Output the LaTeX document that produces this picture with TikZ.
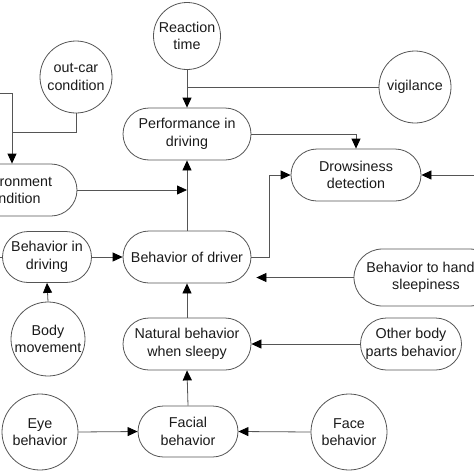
\documentclass[tikz,border=0pt]{standalone}
\usepackage{fontspec}
\setmainfont{Liberation Sans}
\usetikzlibrary{arrows.meta,shapes.misc}
\definecolor{edge}{HTML}{555555}
\definecolor{ink}{HTML}{1A1A1A}
\tikzset{
  base/.style={draw=edge,line width=0.8pt,text=ink,align=center,inner sep=0pt,
    font=\fontsize{14.3}{17.5}\selectfont},
  pill/.style={base,rounded rectangle,minimum height=52pt},
  ring/.style={base,circle},
  conn/.style={draw=edge,line width=0.8pt},
  arr/.style={conn,-{Triangle[length=10pt,width=9pt,color=black]}}
}
\begin{document}
\begin{tikzpicture}[x=1pt,y=-1pt]
\useasboundingbox (0,0) rectangle (474,474);
\fill[white] (0,0) rectangle (474,474);
\clip (0,0) rectangle (474,474);
% nodes
\node[ring,minimum size=67pt] (rt) at (187,36) {Reaction\\time};
\node[ring,minimum size=72pt] (vig) at (415,87) {vigilance};
\node[ring,minimum size=72pt] (oc) at (76,77) {out-car\\condition};
\node[pill,minimum width=128pt] (perf) at (187,134) {Performance in\\driving};
\node[pill,minimum width=130pt] (drow) at (356,175) {Drowsiness\\detection};
\node[pill,minimum width=130pt] (env) at (12,190) {Environment\\condition};
\node[pill,minimum width=128pt] (bod) at (187,257) {Behavior of driver};
\node[pill,minimum width=89pt,minimum height=51pt] (bid) at (47,257) {Behavior in\\driving};
\node[pill,minimum width=144pt,minimum height=57pt] (bh) at (426,277.5) {Behavior to handle\\sleepiness};
\node[ring,minimum size=74pt] (bm) at (48,339) {Body\\movement};
\node[pill,minimum width=128pt] (nat) at (187,344) {Natural behavior\\when sleepy};
\node[pill,minimum width=101pt] (obp) at (411,344) {Other body\\parts behavior};
\node[pill,minimum width=100pt,minimum height=51pt] (fac) at (188,431.5) {Facial\\behavior};
\node[ring,minimum size=76pt] (eye) at (40,432) {Eye\\behavior};
\node[ring,minimum size=76pt] (face) at (349,432) {Face\\behavior};
% helper coordinates
\coordinate (j1) at (12,132);
\coordinate (lin) at (-10,93);
\coordinate (rin) at (490,175);
\coordinate (lin2) at (-10,257);
% connectors
\draw[arr] (rt.south) -- (perf.north);
\draw[conn] (vig.west) -- (vig.west -| rt.south);
\draw[arr] (oc.south) |- (j1) -- (env.north);
\draw[conn] (lin) -| (j1);
\draw[arr] (env.east) -- (env.east -| perf.south);
\draw[arr] (bod.north) -- (perf.south);
\draw[arr] (perf.east) -| (drow.north);
\draw[arr] (bod.east) -- ++(18,0) |- (drow.west);
\draw[arr] (rin) -- (drow.east);
\draw[arr,shorten >=5pt] (bh.west) -- (bh.west -| bod.east);
\draw[conn] (lin2) -- (bid.west);
\draw[arr] (bid.east) -- (bod.west);
\draw[arr] (bm.north) -- (bid.south);
\draw[arr] (nat.north) -- (bod.south);
\draw[arr] (obp.west) -- (nat.east);
\draw[arr] (fac.north) -- (nat.south);
\draw[arr] (eye.east) -- (fac.west);
\draw[arr] (face.west) -- (fac.east);
\end{tikzpicture}
\end{document}
